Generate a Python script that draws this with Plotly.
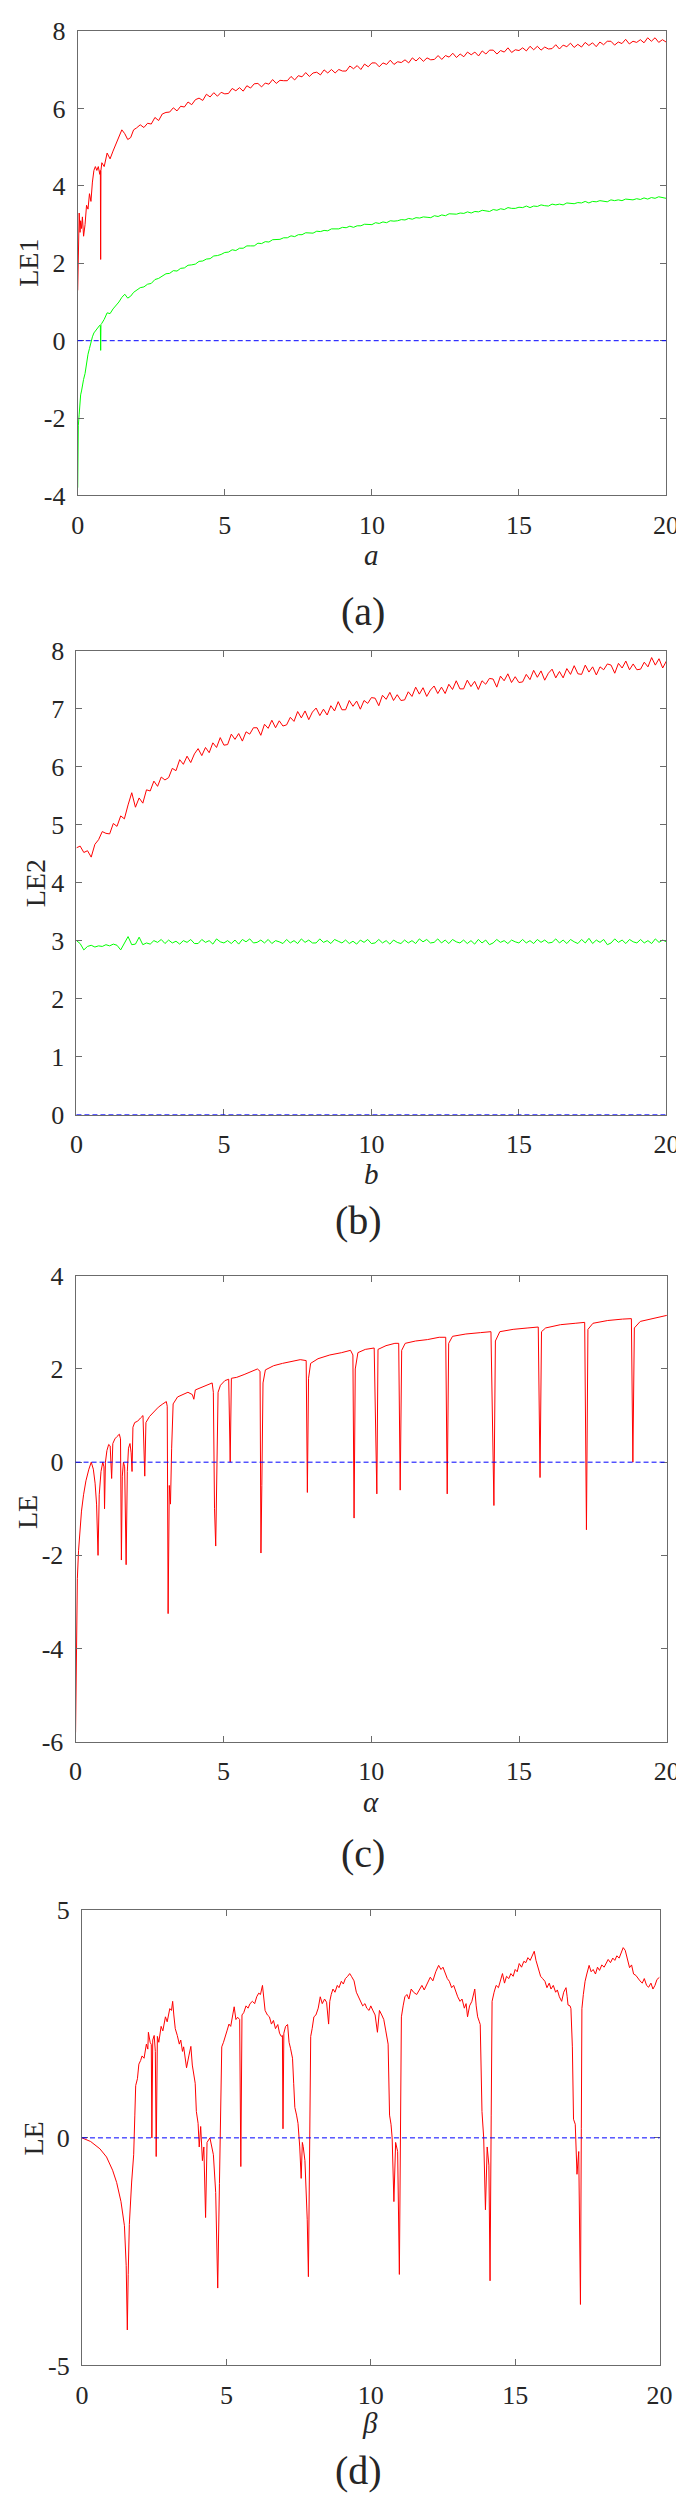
import plotly.graph_objects as go

FONT = "Liberation Serif, Times New Roman, serif"
W, H = 684, 2496

# ---- panel (a): LE1 vs a ----
a_x = [0, 0.02, 0.05, 0.08, 0.1, 0.13, 0.16, 0.2, 0.25, 0.3,
       0.35, 0.4, 0.45, 0.5, 0.55, 0.6, 0.65, 0.7, 0.75, 0.77,
       0.78, 0.79, 0.82, 0.9, 1.0, 1.1, 1.2, 1.3, 1.4, 1.5,
       1.6, 1.7, 1.8, 1.9, 2.0,
       2.125, 2.25, 2.375, 2.5, 2.625, 2.75, 2.875, 3.0,
       3.125, 3.25, 3.375, 3.5, 3.625, 3.75, 3.875, 4.0,
       4.125, 4.25, 4.375, 4.5, 4.625, 4.75, 4.875, 5.0,
       5.125, 5.25, 5.375, 5.5, 5.625, 5.75, 5.875, 6.0,
       6.125, 6.25, 6.375, 6.5, 6.625, 6.75, 6.875, 7.0,
       7.125, 7.25, 7.375, 7.5, 7.625, 7.75, 7.875, 8.0,
       8.125, 8.25, 8.375, 8.5, 8.625, 8.75, 8.875, 9.0,
       9.125, 9.25, 9.375, 9.5, 9.625, 9.75, 9.875, 10.0,
       10.125, 10.25, 10.375, 10.5, 10.625, 10.75, 10.875, 11.0,
       11.125, 11.25, 11.375, 11.5, 11.625, 11.75, 11.875, 12.0,
       12.125, 12.25, 12.375, 12.5, 12.625, 12.75, 12.875, 13.0,
       13.125, 13.25, 13.375, 13.5, 13.625, 13.75, 13.875, 14.0,
       14.125, 14.25, 14.375, 14.5, 14.625, 14.75, 14.875, 15.0,
       15.125, 15.25, 15.375, 15.5, 15.625, 15.75, 15.875, 16.0,
       16.125, 16.25, 16.375, 16.5, 16.625, 16.75, 16.875, 17.0,
       17.125, 17.25, 17.375, 17.5, 17.625, 17.75, 17.875, 18.0,
       18.125, 18.25, 18.375, 18.5, 18.625, 18.75, 18.875, 19.0,
       19.125, 19.25, 19.375, 19.5, 19.625, 19.75, 19.875, 20.0]
a_red = [1.3, 2.4, 3.3, 2.8, 3.1, 2.9, 3.2, 2.7, 3.0, 3.5,
         3.4, 3.8, 3.6, 4.1, 4.4, 4.5, 4.4, 4.5, 4.3, 4.4,
         2.1, 4.4, 4.6, 4.5, 4.85, 4.7, 4.9, 5.1, 5.3, 5.45,
         5.35, 5.2, 5.25, 5.45, 5.5,
         5.58, 5.51, 5.62, 5.60, 5.77, 5.69, 5.86, 5.90,
         5.91, 6.02, 5.94, 6.06, 6.04, 6.17, 6.10, 6.23,
         6.27, 6.21, 6.37, 6.30, 6.41, 6.32, 6.42, 6.38,
         6.39, 6.52, 6.46, 6.54, 6.45, 6.59, 6.53, 6.64,
         6.65, 6.56, 6.66, 6.63, 6.75, 6.65, 6.73, 6.72,
         6.72, 6.83, 6.74, 6.85, 6.82, 6.93, 6.83, 6.92,
         6.94, 6.87, 7.00, 6.92, 7.01, 6.92, 7.01, 6.97,
         6.97, 7.10, 7.03, 7.11, 7.01, 7.15, 7.08, 7.18,
         7.18, 7.08, 7.18, 7.14, 7.25, 7.14, 7.21, 7.19,
         7.26, 7.18, 7.31, 7.23, 7.32, 7.22, 7.31, 7.26,
         7.27, 7.37, 7.27, 7.37, 7.33, 7.43, 7.32, 7.41,
         7.34, 7.46, 7.39, 7.46, 7.36, 7.49, 7.41, 7.51,
         7.51, 7.41, 7.50, 7.46, 7.57, 7.45, 7.52, 7.50,
         7.57, 7.49, 7.61, 7.52, 7.61, 7.51, 7.59, 7.54,
         7.55, 7.65, 7.54, 7.64, 7.60, 7.69, 7.58, 7.66,
         7.59, 7.71, 7.63, 7.70, 7.60, 7.72, 7.65, 7.74,
         7.74, 7.64, 7.72, 7.68, 7.79, 7.67, 7.74, 7.71,
         7.78, 7.70, 7.83, 7.74, 7.83, 7.71, 7.78, 7.72]
a_green = [-3.8, -2.2, -1.9, -1.5, -1.4, -1.3, -1.15, -1.0, -0.85, -0.55,
           -0.35, -0.2, 0.0, 0.1, 0.2, 0.25, 0.3, 0.35, 0.4, 0.38,
           -0.25, 0.42, 0.45, 0.55, 0.72, 0.7, 0.82, 0.9, 1.0, 1.12,
           1.2, 1.1, 1.15, 1.25, 1.3,
           1.37, 1.39, 1.46, 1.48, 1.58, 1.61, 1.66, 1.73,
           1.74, 1.81, 1.80, 1.87, 1.88, 1.95, 1.96, 1.98,
           2.05, 2.06, 2.11, 2.12, 2.19, 2.20, 2.23, 2.28,
           2.29, 2.35, 2.33, 2.39, 2.39, 2.45, 2.45, 2.45,
           2.52, 2.51, 2.56, 2.55, 2.61, 2.61, 2.62, 2.66,
           2.66, 2.71, 2.69, 2.74, 2.74, 2.79, 2.78, 2.78,
           2.83, 2.82, 2.85, 2.84, 2.89, 2.89, 2.89, 2.93,
           2.92, 2.96, 2.93, 2.97, 2.97, 3.01, 3.01, 3.00,
           3.05, 3.03, 3.07, 3.05, 3.10, 3.09, 3.10, 3.13,
           3.12, 3.16, 3.14, 3.18, 3.17, 3.20, 3.19, 3.18,
           3.23, 3.21, 3.25, 3.23, 3.28, 3.27, 3.27, 3.30,
           3.29, 3.33, 3.30, 3.34, 3.33, 3.37, 3.35, 3.34,
           3.39, 3.37, 3.41, 3.39, 3.44, 3.42, 3.42, 3.45,
           3.44, 3.48, 3.44, 3.48, 3.47, 3.51, 3.49, 3.48,
           3.53, 3.51, 3.53, 3.51, 3.56, 3.55, 3.54, 3.57,
           3.56, 3.60, 3.56, 3.60, 3.59, 3.62, 3.61, 3.59,
           3.64, 3.62, 3.64, 3.62, 3.66, 3.65, 3.64, 3.67,
           3.65, 3.69, 3.66, 3.70, 3.68, 3.72, 3.70, 3.68]

# ---- panel (b): LE2 vs b ----
b_x = [0.0,
       0.125, 0.25, 0.375, 0.5, 0.625, 0.75, 0.875, 1.0,
       1.125, 1.25, 1.375, 1.5, 1.625, 1.75, 1.875, 2.0,
       2.125, 2.25, 2.375, 2.5, 2.625, 2.75, 2.875, 3.0,
       3.125, 3.25, 3.375, 3.5, 3.625, 3.75, 3.875, 4.0,
       4.125, 4.25, 4.375, 4.5, 4.625, 4.75, 4.875, 5.0,
       5.125, 5.25, 5.375, 5.5, 5.625, 5.75, 5.875, 6.0,
       6.125, 6.25, 6.375, 6.5, 6.625, 6.75, 6.875, 7.0,
       7.125, 7.25, 7.375, 7.5, 7.625, 7.75, 7.875, 8.0,
       8.125, 8.25, 8.375, 8.5, 8.625, 8.75, 8.875, 9.0,
       9.125, 9.25, 9.375, 9.5, 9.625, 9.75, 9.875, 10.0,
       10.125, 10.25, 10.375, 10.5, 10.625, 10.75, 10.875, 11.0,
       11.125, 11.25, 11.375, 11.5, 11.625, 11.75, 11.875, 12.0,
       12.125, 12.25, 12.375, 12.5, 12.625, 12.75, 12.875, 13.0,
       13.125, 13.25, 13.375, 13.5, 13.625, 13.75, 13.875, 14.0,
       14.125, 14.25, 14.375, 14.5, 14.625, 14.75, 14.875, 15.0,
       15.125, 15.25, 15.375, 15.5, 15.625, 15.75, 15.875, 16.0,
       16.125, 16.25, 16.375, 16.5, 16.625, 16.75, 16.875, 17.0,
       17.125, 17.25, 17.375, 17.5, 17.625, 17.75, 17.875, 18.0,
       18.125, 18.25, 18.375, 18.5, 18.625, 18.75, 18.875, 19.0,
       19.125, 19.25, 19.375, 19.5, 19.625, 19.75, 19.875, 20.0]
b_red = [4.60,
         4.63, 4.52, 4.55, 4.44, 4.66, 4.74, 4.88, 4.85,
         4.84, 5.02, 4.97, 5.15, 5.10, 5.34, 5.55, 5.30,
         5.46, 5.37, 5.60, 5.58, 5.75, 5.66, 5.82, 5.77,
         5.81, 5.97, 5.93, 6.12, 6.04, 6.18, 6.07, 6.22,
         6.31, 6.19, 6.33, 6.24, 6.41, 6.33, 6.50, 6.37,
         6.38, 6.56, 6.47, 6.57, 6.44, 6.60, 6.56, 6.67,
         6.67, 6.54, 6.73, 6.66, 6.80, 6.67, 6.79, 6.70,
         6.72, 6.85, 6.78, 6.95, 6.84, 6.96, 6.81, 6.94,
         7.01, 6.88, 6.99, 6.89, 7.05, 6.96, 7.12, 6.98,
         6.98, 7.14, 7.04, 7.13, 6.99, 7.14, 7.09, 7.19,
         7.18, 7.05, 7.23, 7.16, 7.28, 7.14, 7.24, 7.14,
         7.15, 7.29, 7.21, 7.37, 7.25, 7.36, 7.21, 7.32,
         7.39, 7.26, 7.37, 7.26, 7.42, 7.33, 7.48, 7.34,
         7.34, 7.49, 7.38, 7.47, 7.33, 7.48, 7.42, 7.52,
         7.51, 7.37, 7.56, 7.48, 7.60, 7.45, 7.55, 7.45,
         7.46, 7.59, 7.50, 7.66, 7.54, 7.65, 7.49, 7.61,
         7.68, 7.53, 7.64, 7.53, 7.69, 7.59, 7.74, 7.60,
         7.59, 7.75, 7.63, 7.72, 7.58, 7.72, 7.67, 7.77,
         7.75, 7.61, 7.78, 7.70, 7.82, 7.67, 7.77, 7.67,
         7.68, 7.80, 7.72, 7.88, 7.75, 7.86, 7.70, 7.82]
b_green = [3.00,
           2.95, 2.84, 2.90, 2.92, 2.89, 2.91, 2.90, 2.93,
           2.91, 2.94, 2.92, 2.84, 2.95, 3.07, 2.93, 2.94,
           3.06, 2.93, 2.96, 2.94, 3.00, 2.97, 3.02, 2.95,
           3.01, 2.96, 2.99, 2.94, 3.00, 2.97, 3.02, 2.95,
           2.95, 3.02, 2.97, 3.00, 2.94, 3.03, 2.98, 2.96,
           3.00, 2.95, 3.01, 2.94, 3.02, 2.98, 3.03, 2.96,
           2.97, 3.01, 2.96, 3.02, 2.95, 3.00, 2.98, 2.95,
           3.02, 2.96, 3.00, 2.95, 3.03, 2.97, 3.01, 2.96,
           2.96, 3.03, 2.97, 3.00, 2.95, 3.02, 2.99, 2.96,
           3.01, 2.95, 2.99, 2.94, 3.01, 2.97, 3.02, 2.95,
           2.96, 3.02, 2.96, 3.00, 2.94, 3.01, 2.97, 2.95,
           3.01, 2.96, 3.00, 2.95, 3.03, 2.98, 3.02, 2.96,
           2.97, 3.03, 2.96, 3.01, 2.95, 3.02, 2.98, 2.96,
           3.01, 2.95, 3.00, 2.94, 3.02, 2.96, 3.01, 2.93,
           2.96, 3.02, 2.97, 3.00, 2.95, 3.01, 2.98, 2.96,
           3.02, 2.96, 3.00, 2.95, 3.02, 2.97, 3.01, 2.96,
           2.97, 3.03, 2.96, 3.01, 2.95, 3.02, 2.98, 2.95,
           3.02, 2.96, 3.04, 2.95, 3.01, 2.97, 3.02, 2.93,
           2.96, 3.03, 2.97, 3.01, 2.95, 3.02, 2.98, 2.96,
           3.02, 2.96, 3.00, 2.95, 3.03, 2.97, 3.01, 2.98]

# ---- panel (c): LE vs alpha ----
c_x = [0.00, 0.03, 0.06, 0.10, 0.15, 0.20, 0.27, 0.35, 0.45, 0.53,
       0.60, 0.66, 0.71, 0.76, 0.80, 0.86, 0.92, 0.96, 0.98, 1.01,
       1.06, 1.12, 1.17, 1.22, 1.26, 1.33, 1.40, 1.48, 1.52, 1.55,
       1.58, 1.62, 1.66, 1.71, 1.75, 1.79, 1.84, 1.88, 1.91, 1.94,
       2.00, 2.10, 2.20, 2.28, 2.34, 2.38, 2.50, 2.65, 2.80, 2.95,
       3.07, 3.10, 3.13, 3.17, 3.21, 3.25, 3.30, 3.45, 3.60, 3.80,
       3.95, 4.00, 4.05, 4.30, 4.50, 4.62, 4.66, 4.70, 4.74, 4.78,
       4.82, 4.90, 5.05, 5.18, 5.23, 5.27, 5.45, 5.70, 5.95, 6.15,
       6.24, 6.27, 6.30, 6.34, 6.42, 6.70, 7.00, 7.30, 7.60, 7.80,
       7.84, 7.88, 7.95, 8.20, 8.60, 9.00, 9.30, 9.38, 9.42, 9.46,
       9.55, 9.80, 10.10, 10.19, 10.23, 10.50, 10.80, 10.93, 10.98, 11.03,
       11.15, 11.50, 11.90, 12.30, 12.52, 12.57, 12.62, 12.75, 13.20, 13.70,
       14.05, 14.15, 14.20, 14.35, 14.80, 15.30, 15.65, 15.71, 15.76, 15.90,
       16.40, 16.90, 17.22, 17.28, 17.33, 17.50, 18.00, 18.50, 18.80, 18.85,
       18.90, 19.10, 19.50, 20.00]
c_le = [-5.8, -3.5, -2.5, -1.9, -1.4, -1.05, -0.7, -0.4, -0.15, 0.0,
        -0.15, -0.45, -0.9, -2.0, -0.7, -0.2, 0.0, -0.1, -1.0, 0.0,
        0.25, 0.38, 0.35, -0.35, 0.4, 0.5, 0.55, 0.6, 0.5, -2.1,
        -0.3, 0.0, -0.1, -2.2, -0.2, 0.3, 0.4, 0.2, -0.2, 0.75,
        0.85, 0.88, 0.95, 1.0, -0.3, 0.85, 0.98, 1.08, 1.18, 1.25,
        1.3, 1.2, -3.25, -0.5, -0.9, 0.3, 1.25, 1.4, 1.45, 1.5,
        1.45, 1.35, 1.55, 1.62, 1.68, 1.7, 1.5, -1.0, -1.8, -0.2,
        1.5, 1.65, 1.75, 1.78, 0.0, 1.8, 1.82, 1.88, 1.95, 2.0,
        1.95, -1.95, -0.5, 1.7, 1.98, 2.07, 2.12, 2.16, 2.2, 2.18,
        -0.65, 1.8, 2.12, 2.22, 2.3, 2.35, 2.4, 2.3, -1.2, 2.0,
        2.35, 2.42, 2.45, -0.68, 2.42, 2.5, 2.55, 2.55, -0.6, 2.4,
        2.55, 2.6, 2.63, 2.68, 2.68, -0.68, 2.55, 2.7, 2.75, 2.78,
        2.8, -0.93, 2.6, 2.8, 2.85, 2.88, 2.9, -0.33, 2.8, 2.88,
        2.95, 2.98, 3.0, -1.45, 2.85, 2.98, 3.04, 3.07, 3.08, 0.0,
        2.88, 3.02, 3.08, 3.15]

# ---- panel (d): LE vs beta ----
d_x = [0.00, 0.30, 0.62, 0.85, 1.06, 1.20, 1.35, 1.47, 1.53, 1.57,
       1.60, 1.64, 1.72, 1.79, 1.83, 1.86, 1.92, 1.97, 2.03, 2.08,
       2.15, 2.23, 2.28, 2.30, 2.36, 2.40, 2.42, 2.45, 2.50, 2.54,
       2.57, 2.61, 2.66, 2.74, 2.80, 2.89, 2.95, 3.04, 3.10, 3.14,
       3.18, 3.23, 3.30, 3.37, 3.42, 3.48, 3.52, 3.57, 3.62, 3.70,
       3.77, 3.82, 3.87, 3.92, 3.96, 4.02, 4.06, 4.11, 4.17, 4.22,
       4.28, 4.33, 4.43, 4.55, 4.63, 4.70, 4.76, 4.80, 4.84, 4.90,
       4.95, 5.02, 5.09, 5.15, 5.22, 5.27, 5.33, 5.39, 5.46, 5.50,
       5.54, 5.60, 5.68, 5.75, 5.82, 5.90, 5.98, 6.05, 6.12, 6.18,
       6.25, 6.30, 6.34, 6.42, 6.49, 6.56, 6.63, 6.70, 6.78, 6.84,
       6.90, 6.94, 6.96, 6.99, 7.05, 7.12, 7.17, 7.22, 7.29, 7.33,
       7.37, 7.43, 7.48, 7.54, 7.59, 7.63, 7.66, 7.72, 7.80, 7.84,
       7.88, 7.92, 7.97, 8.03, 8.10, 8.18, 8.25, 8.32, 8.40, 8.47,
       8.54, 8.58, 8.63, 8.69, 8.76, 8.84, 8.90, 8.98, 9.05, 9.12,
       9.20, 9.27, 9.33, 9.42, 9.50, 9.57, 9.64, 9.72, 9.80, 9.86,
       9.94, 10.00, 10.08, 10.15, 10.23, 10.30, 10.38, 10.45, 10.52, 10.60,
       10.65, 10.70, 10.74, 10.80, 10.86, 10.93, 10.99, 11.03, 11.06, 11.12,
       11.18, 11.25, 11.32, 11.40, 11.48, 11.59, 11.68, 11.77, 11.85, 11.95,
       12.06, 12.15, 12.25, 12.35, 12.43, 12.50, 12.58, 12.65, 12.72, 12.80,
       12.87, 12.94, 13.01, 13.09, 13.16, 13.24, 13.30, 13.35, 13.42, 13.50,
       13.55, 13.60, 13.65, 13.70, 13.76, 13.79, 13.85, 13.91, 13.97, 14.03,
       14.09, 14.13, 14.17, 14.20, 14.27, 14.34, 14.42, 14.50, 14.56, 14.63,
       14.70, 14.78, 14.85, 14.93, 15.00, 15.07, 15.14, 15.22, 15.30, 15.37,
       15.44, 15.52, 15.60, 15.66, 15.72, 15.80, 15.88, 15.95, 16.03, 16.10,
       16.18, 16.24, 16.32, 16.40, 16.46, 16.53, 16.61, 16.68, 16.76, 16.80,
       16.83, 16.90, 16.93, 16.98, 17.02, 17.08, 17.14, 17.20, 17.26, 17.29,
       17.31, 17.36, 17.42, 17.48, 17.56, 17.63, 17.70, 17.78, 17.85, 17.92,
       18.00, 18.08, 18.15, 18.22, 18.30, 18.38, 18.45, 18.52, 18.60, 18.68,
       18.74, 18.81, 18.88, 18.96, 19.03, 19.10, 19.18, 19.25, 19.32, 19.40,
       19.47, 19.55, 19.62, 19.70, 19.77, 19.84, 19.91, 20.00]
d_le = [0.00, -0.08, -0.24, -0.42, -0.71, -0.98, -1.40, -1.93, -2.80, -4.22,
        -3.00, -1.90, -0.97, -0.37, 0.50, 1.15, 1.30, 1.62, 1.70, 1.80,
        1.75, 2.06, 1.95, 2.32, 2.10, 2.05, 0.00, 2.15, 2.25, 1.90,
        -0.41, 2.23, 2.10, 2.45, 2.35, 2.66, 2.55, 2.84, 2.80, 3.00,
        2.70, 2.40, 2.25, 2.06, 2.15, 1.90, 2.00, 1.70, 1.54, 1.80,
        2.01, 1.60, 1.36, 1.20, 0.58, 0.32, -0.20, 0.25, -0.50, -0.20,
        -1.75, -0.10, 0.00, -0.37, -1.20, -3.30, -1.00, 0.84, 2.00, 2.10,
        2.23, 2.35, 2.50, 2.45, 2.70, 2.88, 2.60, 2.65, 2.60, -0.63,
        2.70, 2.75, 2.90, 2.85, 2.95, 3.00, 2.95, 3.10, 3.18, 3.15,
        3.35, 3.00, 2.80, 2.70, 2.66, 2.50, 2.58, 2.40, 2.49, 2.30,
        2.23, 2.25, 0.20, 2.30, 2.45, 2.49, 2.10, 1.97, 1.75, 1.20,
        0.67, 0.50, 0.32, -0.20, -0.89, -0.10, -0.19, -0.50, -1.80, -3.05,
        0.50, 2.23, 2.40, 2.66, 2.70, 2.85, 3.10, 2.95, 3.05, 2.98,
        2.50, 3.00, 3.15, 3.27, 3.20, 3.35, 3.30, 3.44, 3.38, 3.50,
        3.55, 3.61, 3.55, 3.45, 3.20, 3.10, 3.00, 2.90, 2.95, 2.85,
        2.80, 2.90, 2.79, 2.70, 2.32, 2.80, 2.70, 2.60, 2.35, 2.06,
        0.50, 0.30, 0.00, -1.40, -0.10, -0.30, -3.00, 0.50, 2.66, 2.90,
        3.10, 3.15, 3.05, 3.27, 3.20, 3.15, 3.25, 3.35, 3.25, 3.40,
        3.53, 3.45, 3.65, 3.79, 3.70, 3.75, 3.60, 3.50, 3.44, 3.30,
        3.35, 3.20, 3.10, 3.00, 3.05, 2.85, 2.95, 2.66, 2.90, 3.00,
        3.15, 3.27, 2.90, 2.66, 2.55, 2.49, 0.58, 0.00, -1.58, -0.20,
        -0.60, -3.14, 0.50, 3.00, 3.20, 3.35, 3.30, 3.50, 3.61, 3.40,
        3.55, 3.50, 3.61, 3.55, 3.70, 3.65, 3.83, 3.75, 3.88, 3.85,
        3.96, 3.90, 4.00, 4.10, 3.90, 3.70, 3.55, 3.50, 3.44, 3.30,
        3.40, 3.27, 3.35, 3.20, 3.25, 3.10, 3.00, 3.20, 3.30, 3.10,
        2.92, 2.90, 2.84, 2.00, 0.41, 0.30, -0.80, -0.30, -3.66, 0.20,
        2.84, 3.15, 3.44, 3.60, 3.79, 3.65, 3.70, 3.60, 3.75, 3.68,
        3.80, 3.75, 3.85, 3.92, 3.85, 3.95, 3.90, 4.00, 3.95, 4.10,
        4.18, 4.12, 3.95, 3.74, 3.80, 3.60, 3.57, 3.50, 3.45, 3.40,
        3.50, 3.35, 3.31, 3.40, 3.27, 3.35, 3.48, 3.53]

zero_level = 0

# tick values (labels written with a plain hyphen like the original)
x_ticks = [0, 5, 10, 15, 20]
a_yticks = [-4, -2, 0, 2, 4, 6, 8]
b_yticks = [0, 1, 2, 3, 4, 5, 6, 7, 8]
c_yticks = [-6, -4, -2, 0, 2, 4]
d_yticks = [-5, 0, 5]


def px_x(p):
    return p / W


def px_y(p):
    return 1 - p / H


def axis(domain, rng, ticks, anchor):
    return dict(
        domain=domain, range=rng, anchor=anchor,
        tickvals=ticks, ticktext=[str(t) for t in ticks],
        showline=True, mirror='ticks', linecolor='#6b6b6b', linewidth=1,
        ticks='inside', ticklen=6, tickwidth=1, tickcolor='#6b6b6b',
        showgrid=False, zeroline=False, ticklabelstandoff=6,
        tickfont=dict(family=FONT, size=26, color='#262626'),
    )


fig = go.Figure()

# pixel boxes of the four panels (left, right, top, bottom)
boxes = [(64.6, 670.7, 9.3, 479.0),
         (63.3, 671.0, 636.0, 1105.5),
         (62.4, 671.5, 1268.5, 1740.0),
         (69.0, 664.0, 1910.5, 2371.0)]
yranges = [[-4, 8], [0, 8], [-6, 4], [-5, 5]]
yticks = [a_yticks, b_yticks, c_yticks, d_yticks]

layout_axes = {}
for i, (l, r, t, b) in enumerate(boxes):
    n = '' if i == 0 else str(i + 1)
    layout_axes['xaxis' + n] = axis([px_x(l), px_x(r)], [0, 20], x_ticks, 'y' + n)
    layout_axes['yaxis' + n] = axis([px_y(b), px_y(t)], yranges[i], yticks[i], 'x' + n)

line_red = dict(color='#ff0000', width=1)
line_green = dict(color='#00ff00', width=1)

fig.add_trace(go.Scatter(x=a_x, y=a_red, mode='lines', line=line_red, xaxis='x', yaxis='y'))
fig.add_trace(go.Scatter(x=a_x, y=a_green, mode='lines', line=line_green, xaxis='x', yaxis='y'))
fig.add_trace(go.Scatter(x=b_x, y=b_red, mode='lines', line=line_red, xaxis='x2', yaxis='y2'))
fig.add_trace(go.Scatter(x=b_x, y=b_green, mode='lines', line=line_green, xaxis='x2', yaxis='y2'))
fig.add_trace(go.Scatter(x=c_x, y=c_le, mode='lines', line=line_red, xaxis='x3', yaxis='y3'))
fig.add_trace(go.Scatter(x=d_x, y=d_le, mode='lines', line=line_red, xaxis='x4', yaxis='y4'))

# dashed zero reference in every panel
for n in ['', '2', '3', '4']:
    fig.add_shape(type='line', xref='x%s domain' % n, yref='y' + n,
                  x0=0, x1=1, y0=zero_level, y1=zero_level,
                  line=dict(color='#0000ff', width=1, dash='5px,3px'))

# text labels: (text, x px, y px, size, angle)
labels = [
    ('LE1', 14, 244, 28, -90), ('<i>a</i>', 367, 539, 29, 0), ('(a)', 358, 596, 40, 0),
    ('LE2', 22, 871, 28, -90), ('<i>b</i>', 367, 1166, 29, 0), ('(b)', 354, 1213, 40, 0),
    ('LE', 13, 1508, 28, -90), ('<i>α</i>', 367, 1801, 29, 0), ('(c)', 358, 1853, 40, 0),
    ('LE', 19, 2141, 28, -90), ('<i>β</i>', 366, 2429, 29, 0), ('(d)', 354, 2477, 40, 0),
]
for text, x, y, size, ang in labels:
    fig.add_annotation(text=text, x=px_x(x), y=px_y(y), xref='paper', yref='paper',
                       xanchor='center', yanchor='middle', showarrow=False, textangle=ang,
                       font=dict(family=FONT, size=size, color='#262626'))

fig.update_layout(
    width=W, height=H,
    margin=dict(l=0, r=0, t=0, b=0),
    paper_bgcolor='white', plot_bgcolor='white',
    showlegend=False,
    **layout_axes,
)

fig.write_html("out.html")
